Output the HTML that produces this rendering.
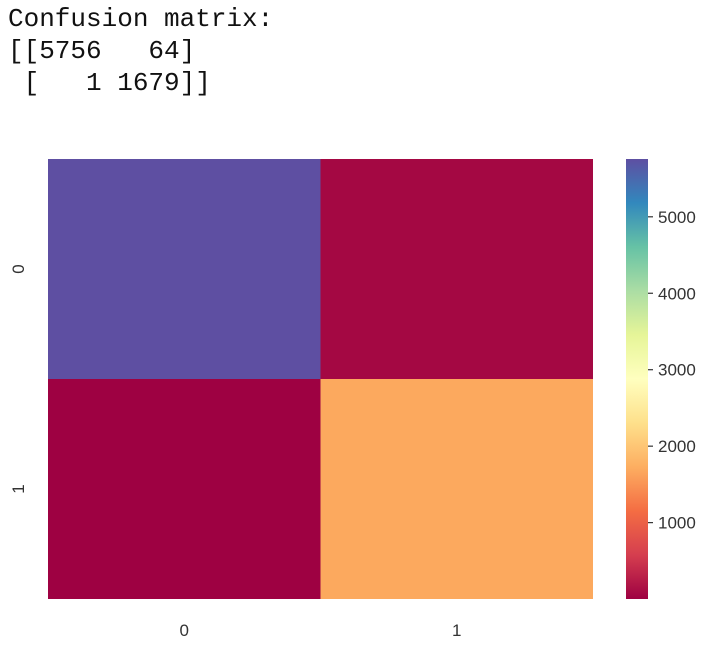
<!DOCTYPE html>
<html><head><meta charset="utf-8"><style>
body{margin:0;background:#fff;width:723px;height:645px;overflow:hidden;position:relative}
pre{position:absolute;left:8px;top:3px;margin:0;font-family:"Liberation Mono","DejaVu Sans Mono",monospace;font-size:26px;line-height:32px;color:#111}
svg{position:absolute;left:0;top:0}
</style></head><body>
<pre>Confusion matrix:
[[5756   64]
 [   1 1679]]</pre>
<svg id="chart" width="723" height="645" xmlns="http://www.w3.org/2000/svg"></svg>
<script>
const rowLabels = ["0","1"];
const colLabels = ["0","1"];
const values = [[5756,64],[1,1679]];
const cbTicks = [1000,2000,3000,4000,5000];
const spectral = ["#9e0142","#d53e4f","#f46d43","#fdae61","#fee08b","#ffffbf","#e6f598","#abdda4","#66c2a5","#3288bd","#5e4fa2"];

const svg = document.getElementById('chart');
const NS = "http://www.w3.org/2000/svg";
const L=48,R=593,T=159,B=599, CBL=626, CBR=648;
const flat = values.flat();
const vmin = Math.min(...flat), vmax = Math.max(...flat);
function hex(h){return [1,3,5].map(i=>parseInt(h.substr(i,2),16));}
function cmap(t){t=Math.max(0,Math.min(1,t));const p=t*(spectral.length-1);const i=Math.min(Math.floor(p),spectral.length-2);const f=p-i;const a=hex(spectral[i]),b=hex(spectral[i+1]);return "rgb("+a.map((v,k)=>Math.round(v+(b[k]-v)*f)).join(",")+")";}
function norm(v){return (v-vmin)/(vmax-vmin);}
function el(tag,attrs){const e=document.createElementNS(NS,tag);for(const k in attrs)e.setAttribute(k,attrs[k]);svg.appendChild(e);return e;}
const cw=(R-L)/colLabels.length, ch=(B-T)/rowLabels.length;
values.forEach((row,r)=>row.forEach((v,c)=>{
  const e=el('rect',{x:L+c*cw,y:T+r*ch,width:cw,height:ch,fill:cmap(norm(v))});
  
  
}));
rowLabels.forEach((lab,r)=>{
  const y=T+(r+0.5)*ch, x=24;
  const t=el('text',{x:x,y:y,transform:`rotate(-90 ${x} ${y})`,'text-anchor':'middle','font-family':'Liberation Sans, sans-serif','font-size':17,fill:'#333'});
  t.textContent=lab;
  
  
});
colLabels.forEach((lab,c)=>{
  const t=el('text',{x:L+(c+0.5)*cw,y:636,'text-anchor':'middle','font-family':'Liberation Sans, sans-serif','font-size':17,fill:'#333'});
  t.textContent=lab;
  
  
});
const defs=el('defs',{});
const grad=document.createElementNS(NS,'linearGradient');
grad.setAttribute('id','g');grad.setAttribute('x1','0');grad.setAttribute('y1','1');grad.setAttribute('x2','0');grad.setAttribute('y2','0');
spectral.forEach((c,i)=>{const s=document.createElementNS(NS,'stop');s.setAttribute('offset',i/(spectral.length-1));s.setAttribute('stop-color',c);grad.appendChild(s);});
defs.appendChild(grad);
const cb=el('rect',{x:CBL,y:T,width:CBR-CBL,height:B-T,fill:'url(#g)'});


function cy(v){return B-(v-vmin)/(vmax-vmin)*(B-T);}
cbTicks.forEach(v=>{
  const y=cy(v);
  const tk=el('line',{x1:CBR,x2:CBR+5,y1:y,y2:y,stroke:'#333','stroke-width':1.2});
  
  
  const t=el('text',{x:CBR+10,y:y+6,'font-family':'Liberation Sans, sans-serif','font-size':17,fill:'#333'});
  t.textContent=v;
  
  
});
</script>
</body></html>
